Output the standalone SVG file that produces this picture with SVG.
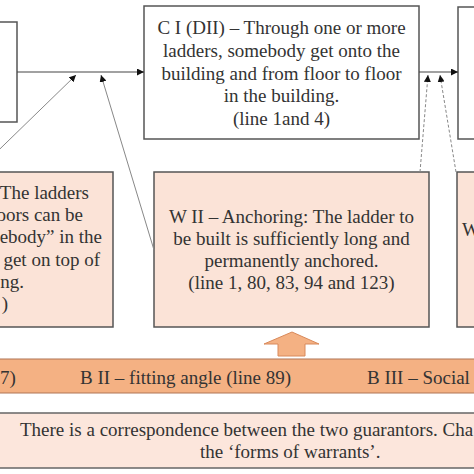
<svg xmlns="http://www.w3.org/2000/svg" width="474" height="474" viewBox="0 0 474 474" font-family="'Liberation Serif', 'Times New Roman', 'DejaVu Serif', serif">
<defs>
<style>
text{font-family:'Liberation Serif','Times New Roman','DejaVu Serif',serif;font-size:19px;fill:#333}
.c{text-anchor:middle}
.e{text-anchor:end}
.wbox{fill:#fff;stroke:#555;stroke-width:1.5}
.pbox{fill:#fbe3d7;stroke:#555;stroke-width:1.5}
.conn{fill:none;stroke:#444;stroke-width:1.2}
.thin{fill:none;stroke:#888;stroke-width:1}
.dash{fill:none;stroke:#888;stroke-width:1;stroke-dasharray:3 2}
</style>
<marker id="ah" viewBox="0 0 10 10" refX="10" refY="5" markerWidth="7" markerHeight="7" markerUnits="userSpaceOnUse" orient="auto">
<path d="M0,0 L10,5 L0,10 z" fill="#111"/>
</marker>
</defs>
<rect width="474" height="474" fill="#fff"/>

<g id="box-left-top"><rect class="wbox" x="-20" y="22" width="37" height="100"/></g>

<g id="box-CI">
<rect class="wbox" x="144" y="6" width="275" height="133"/>
<text class="c" x="281.5" y="34">C I (DII)  – Through one or more</text>
<text class="c" x="281.5" y="57">ladders, somebody get onto the</text>
<text class="c" x="281.5" y="80">building and from floor to floor</text>
<text class="c" x="281.5" y="102">in the building.</text>
<text class="c" x="281.5" y="125">(line 1and 4)</text>
</g>

<g id="box-right-top"><rect class="wbox" x="458" y="7" width="40" height="132"/></g>

<g id="box-left-pink">
<rect class="pbox" x="-200" y="172" width="313" height="155"/>
<text class="e" x="89" y="199">“The ladders</text>
<text class="e" x="83" y="221">oors can be</text>
<text class="e" x="102" y="243">ebody” in the</text>
<text class="e" x="100" y="266">get on top of</text>
<text class="e" x="24" y="288">ng.</text>
<text class="e" x="8" y="310">)</text>
</g>

<g id="box-WII">
<rect class="pbox" x="154" y="172" width="275" height="155"/>
<text class="c" x="291.5" y="223">W II – Anchoring: The ladder to</text>
<text class="c" x="291.5" y="245">be built is sufficiently long and</text>
<text class="c" x="291.5" y="267">permanently anchored.</text>
<text class="c" x="291.5" y="289">(line 1, 80, 83, 94 and 123)</text>
</g>

<g id="box-right-pink">
<rect class="pbox" x="457" y="172" width="40" height="155"/>
<text x="462" y="236">W</text>
</g>

<g id="up-arrow">
<path d="M292,332 L319,344 L305,344 L305,356 L278,356 L278,344 L264,344 Z" fill="#f4b183" stroke="#d9895a" stroke-width="1"/>
</g>

<g id="band">
<rect x="-5" y="359" width="484" height="34" fill="#f4b183" stroke="#b07555" stroke-width="1"/>
<text x="0" y="384">7)</text>
<text x="80" y="384">B II – fitting angle (line 89)</text>
<text x="367" y="384">B III – Social</text>
</g>

<g id="bottom-box">
<rect x="-5" y="413" width="484" height="55" fill="#fce6dc" stroke="#666" stroke-width="1.5"/>
<text x="20" y="436">There is a correspondence between the two guarantors. Cha</text>
<text x="200" y="458">the ‘forms of warrants’.</text>
</g>

<g id="connectors">
<line class="conn" x1="17" y1="72" x2="144" y2="72" marker-end="url(#ah)"/>
<line class="conn" x1="419" y1="72" x2="458" y2="72" marker-end="url(#ah)"/>
<line class="thin" x1="-30" y1="178" x2="76" y2="75" marker-end="url(#ah)"/>
<line class="thin" x1="154" y1="250" x2="101" y2="75" marker-end="url(#ah)"/>
<line class="dash" x1="420" y1="172" x2="428" y2="75" marker-end="url(#ah)"/>
<line class="dash" x1="456" y1="172" x2="440" y2="75" marker-end="url(#ah)"/>
</g>
</svg>
